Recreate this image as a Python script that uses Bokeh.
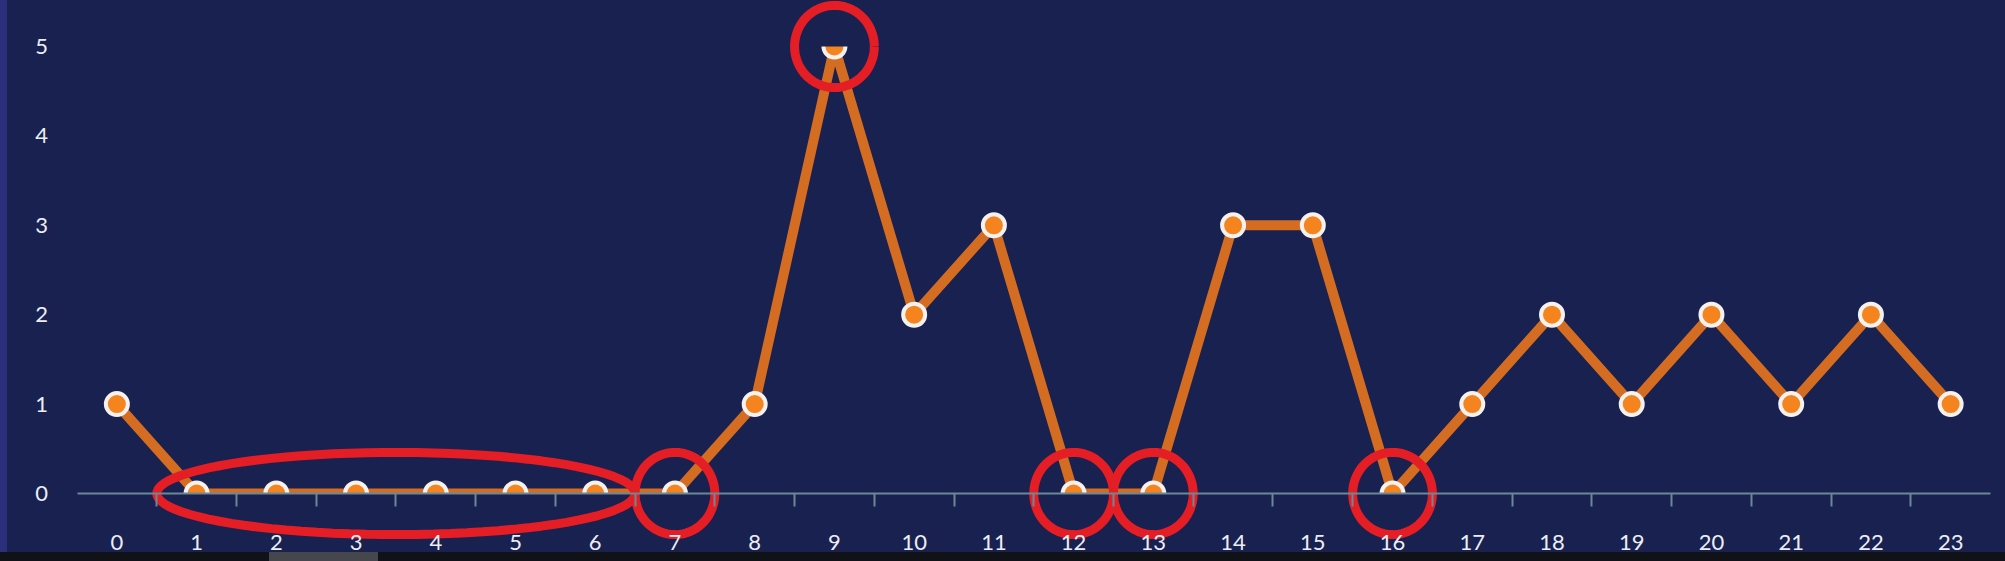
import numpy as np
from bokeh.plotting import figure
from bokeh.models import Range1d, FixedTicker
from bokeh.embed import file_html
from bokeh.resources import INLINE

# ---- data ----
hours = list(range(24))
counts = [1, 0, 0, 0, 0, 0, 0, 0, 1, 5, 2, 3, 0, 0, 3, 3, 0, 1, 2, 1, 2, 1, 2, 1]
y_ticks = [0, 1, 2, 3, 4, 5]
x_labels = [str(h) for h in hours]
# hand-drawn highlight groups (hours circled in red)
highlight_groups = [[1, 2, 3, 4, 5, 6], [7], [9], [12], [13], [16]]

BG = "#192150"
LINE = "#d46c22"
MARK = "#f5841f"
TEXT = "#eceef4"
AXIS = "#6d8795"
RED = "#e41e24"

# plot area spans the whole canvas; the data box (-0.5..23.5, 0..5) sits inside it
X_LO, X_HI = -0.5, 23.5
Y_LO, Y_HI = 0, 5
p = figure(width=2005, height=561, output_backend="svg", toolbar_location=None,
           x_range=Range1d(-1.4595, 23.688), y_range=Range1d(-0.7606, 5.5145),
           background_fill_color=None, border_fill_color=None,
           min_border_left=0, min_border_right=0, min_border_top=0, min_border_bottom=0)
p.styles = {
    "background-color": BG,
    "background-image": ("linear-gradient(#46474c, #46474c), "
                         "linear-gradient(#111217, #111217), "
                         "linear-gradient(#2c2f7c, #2c2f7c)"),
    "background-size": "109px 9px, 100% 9px, 7px 100%",
    "background-position": "269px 552px, 0 552px, 0 0",
    "background-repeat": "no-repeat",
}
p.outline_line_color = None
p.grid.grid_line_color = None

p.line(hours, counts, line_color=LINE, line_width=10)
p.scatter(hours, counts, size=22, fill_color=MARK, line_color="#f4f1ee", line_width=4)

# masks: marks are clipped at the edges of the data box
p.quad(left=[X_LO], right=[X_HI], bottom=[Y_LO - 0.3], top=[Y_LO], fill_color=BG, line_color=None)
p.quad(left=[X_LO], right=[X_HI], bottom=[Y_HI], top=[Y_HI + 0.5], fill_color=BG, line_color=None)

# x axis at y = 0
p.xaxis.fixed_location = Y_LO
p.xaxis.bounds = (X_LO, X_HI)
p.xaxis.ticker = FixedTicker(ticks=hours, minor_ticks=[h + 0.5 for h in hours[:-1]])
p.xaxis.major_label_overrides = {h: l for h, l in zip(hours, x_labels)}
p.xaxis.axis_line_color = AXIS
p.xaxis.axis_line_width = 2
p.xaxis.major_tick_line_color = None
p.xaxis.major_tick_out = 0
p.xaxis.major_tick_in = 0
p.xaxis.minor_tick_line_color = AXIS
p.xaxis.minor_tick_line_width = 2
p.xaxis.minor_tick_out = 13
p.xaxis.minor_tick_in = 0
p.xaxis.major_label_standoff = 28
p.xaxis.major_label_text_font = "Lato"
p.xaxis.major_label_text_font_size = "22px"
p.xaxis.major_label_text_color = TEXT

# y axis at the left edge of the data box
p.yaxis.fixed_location = X_LO
p.yaxis.bounds = (Y_LO, Y_HI)
p.yaxis.ticker = FixedTicker(ticks=y_ticks, minor_ticks=[])
p.yaxis.axis_line_color = None
p.yaxis.major_tick_line_color = None
p.yaxis.minor_tick_line_color = None
p.yaxis.major_tick_out = 0
p.yaxis.major_tick_in = 0
p.yaxis.major_label_standoff = 29
p.yaxis.major_label_text_font = "Lato"
p.yaxis.major_label_text_font_size = "22px"
p.yaxis.major_label_text_color = TEXT

# red hand-drawn style loops around highlighted points
t = np.linspace(0, 2 * np.pi, 90)
loop_xs, loop_ys = [], []
for g in highlight_groups:
    gx = [hours[i] for i in g]
    gy = [counts[i] for i in g]
    cx = (min(gx) + max(gx)) / 2
    cy = float(np.mean(gy))
    rx = (max(gx) - min(gx)) / 2 + 0.5
    ry = 0.46
    loop_xs.append((cx + rx * np.cos(t)).tolist())
    loop_ys.append((cy + ry * np.sin(t)).tolist())
p.multi_line(loop_xs, loop_ys, line_color=RED, line_width=9)

open("out.html", "w").write(file_html(p, INLINE))
